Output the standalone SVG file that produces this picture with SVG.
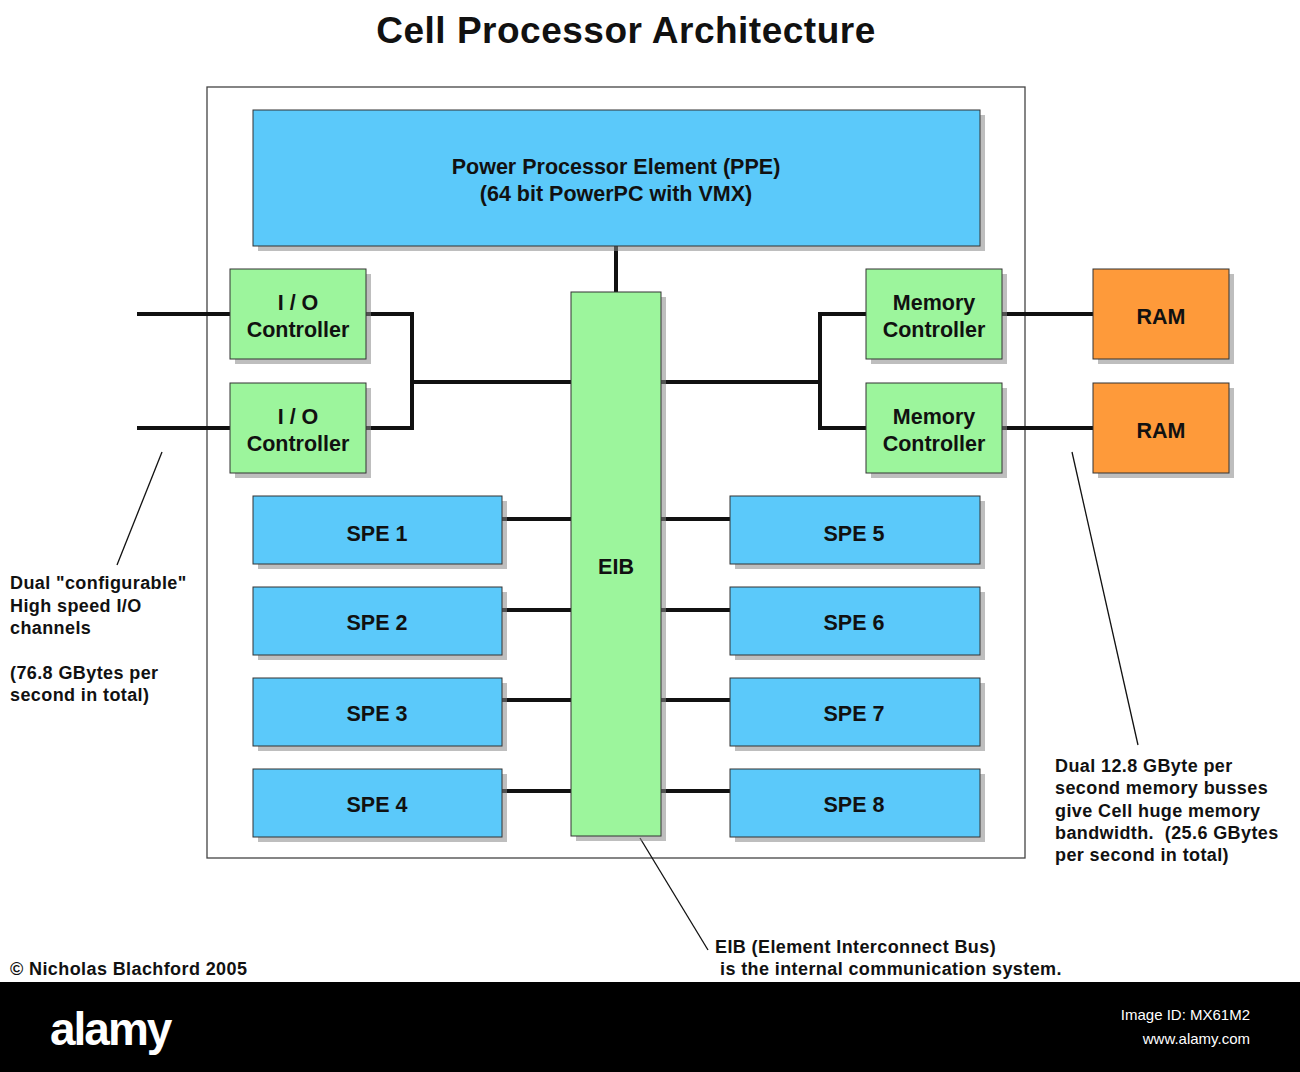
<svg xmlns="http://www.w3.org/2000/svg" width="1300" height="1072" viewBox="0 0 1300 1072">
<style>
text{font-family:"Liberation Sans",Arial,sans-serif;font-weight:bold;fill:#111}
.b{fill:#5bc9fa;stroke:#333;stroke-width:1}
.g{fill:#9cf59c;stroke:#333;stroke-width:1}
.o{fill:#fe9a3a;stroke:#333;stroke-width:1}
.sh{fill:#888;opacity:0.55}
.lbl{font-size:21.5px;text-anchor:middle}
.note{font-size:18px;letter-spacing:0.4px}
#conn line,#conn polyline{stroke:#111;stroke-width:4;fill:none}
#ptr line{stroke:#111;stroke-width:1.3}
</style>
<rect width="1300" height="1072" fill="#fff"/>
<text x="626" y="43" font-size="37" text-anchor="middle" letter-spacing="0.5">Cell Processor Architecture</text>
<rect x="207" y="87" width="818" height="771" fill="#fff" stroke="#444" stroke-width="1.3"/>
<g id="conn">
<line x1="616" y1="246" x2="616" y2="292"/>
<line x1="137" y1="314" x2="230" y2="314"/>
<line x1="137" y1="428" x2="230" y2="428"/>
<polyline points="366,314 412,314 412,428 366,428"/>
<line x1="412" y1="382" x2="571" y2="382"/>
<line x1="661" y1="382" x2="820" y2="382"/>
<polyline points="866,314 820,314 820,428 866,428"/>
<line x1="1002" y1="314" x2="1093" y2="314"/>
<line x1="1002" y1="428" x2="1093" y2="428"/>
<line x1="502" y1="519" x2="571" y2="519"/><line x1="502" y1="610" x2="571" y2="610"/>
<line x1="502" y1="700" x2="571" y2="700"/><line x1="502" y1="791" x2="571" y2="791"/>
<line x1="661" y1="519" x2="730" y2="519"/><line x1="661" y1="610" x2="730" y2="610"/>
<line x1="661" y1="700" x2="730" y2="700"/><line x1="661" y1="791" x2="730" y2="791"/>
</g>
<g id="ptr">
<line x1="162" y1="452" x2="117" y2="565"/>
<line x1="1072" y1="452" x2="1138" y2="745"/>
<line x1="640" y1="838" x2="708" y2="950"/>
</g>
<g id="ppe"><rect class="sh" x="258" y="115" width="727" height="136"/><rect class="b" x="253" y="110" width="727" height="136"/>
<text class="lbl" x="616" y="174">Power Processor Element (PPE)</text><text class="lbl" x="616" y="201">(64 bit PowerPC with VMX)</text></g>
<g id="io1"><rect class="sh" x="235" y="274" width="136" height="90"/><rect class="g" x="230" y="269" width="136" height="90"/>
<text class="lbl" x="298" y="310">I / O</text><text class="lbl" x="298" y="337">Controller</text></g>
<g id="io2"><rect class="sh" x="235" y="388" width="136" height="90"/><rect class="g" x="230" y="383" width="136" height="90"/>
<text class="lbl" x="298" y="424">I / O</text><text class="lbl" x="298" y="451">Controller</text></g>
<g id="eib"><rect class="sh" x="576" y="297" width="90" height="544"/><rect class="g" x="571" y="292" width="90" height="544"/>
<text class="lbl" x="616" y="574">EIB</text></g>
<g id="mc1"><rect class="sh" x="871" y="274" width="136" height="90"/><rect class="g" x="866" y="269" width="136" height="90"/>
<text class="lbl" x="934" y="310">Memory</text><text class="lbl" x="934" y="337">Controller</text></g>
<g id="mc2"><rect class="sh" x="871" y="388" width="136" height="90"/><rect class="g" x="866" y="383" width="136" height="90"/>
<text class="lbl" x="934" y="424">Memory</text><text class="lbl" x="934" y="451">Controller</text></g>
<g id="ram1"><rect class="sh" x="1098" y="274" width="136" height="90"/><rect class="o" x="1093" y="269" width="136" height="90"/><text class="lbl" x="1161" y="324">RAM</text></g>
<g id="ram2"><rect class="sh" x="1098" y="388" width="136" height="90"/><rect class="o" x="1093" y="383" width="136" height="90"/><text class="lbl" x="1161" y="438">RAM</text></g>
<g id="spe1"><rect class="sh" x="258" y="501" width="249" height="68"/><rect class="b" x="253" y="496" width="249" height="68"/><text class="lbl" x="377" y="541">SPE 1</text></g>
<g id="spe2"><rect class="sh" x="258" y="592" width="249" height="68"/><rect class="b" x="253" y="587" width="249" height="68"/><text class="lbl" x="377" y="630">SPE 2</text></g>
<g id="spe3"><rect class="sh" x="258" y="683" width="249" height="68"/><rect class="b" x="253" y="678" width="249" height="68"/><text class="lbl" x="377" y="721">SPE 3</text></g>
<g id="spe4"><rect class="sh" x="258" y="774" width="249" height="68"/><rect class="b" x="253" y="769" width="249" height="68"/><text class="lbl" x="377" y="812">SPE 4</text></g>
<g id="spe5"><rect class="sh" x="735" y="501" width="250" height="68"/><rect class="b" x="730" y="496" width="250" height="68"/><text class="lbl" x="854" y="541">SPE 5</text></g>
<g id="spe6"><rect class="sh" x="735" y="592" width="250" height="68"/><rect class="b" x="730" y="587" width="250" height="68"/><text class="lbl" x="854" y="630">SPE 6</text></g>
<g id="spe7"><rect class="sh" x="735" y="683" width="250" height="68"/><rect class="b" x="730" y="678" width="250" height="68"/><text class="lbl" x="854" y="721">SPE 7</text></g>
<g id="spe8"><rect class="sh" x="735" y="774" width="250" height="68"/><rect class="b" x="730" y="769" width="250" height="68"/><text class="lbl" x="854" y="812">SPE 8</text></g>
<g class="note">
<text class="note" x="10" y="589">Dual "configurable"</text>
<text class="note" x="10" y="612">High speed I/O</text>
<text class="note" x="10" y="634">channels</text>
<text class="note" x="10" y="679">(76.8 GBytes per</text>
<text class="note" x="10" y="701">second in total)</text>
<text class="note" x="1055" y="772">Dual 12.8 GByte per</text>
<text class="note" x="1055" y="794">second memory busses</text>
<text class="note" x="1055" y="817">give Cell huge memory</text>
<text class="note" x="1055" y="839" xml:space="preserve">bandwidth.  (25.6 GBytes</text>
<text class="note" x="1055" y="861">per second in total)</text>
<text class="note" x="715" y="953">EIB (Element Interconnect Bus)</text>
<text class="note" x="720" y="975"> is the internal communication system.</text>
<text class="note" x="10" y="975">© Nicholas Blachford 2005</text>
</g>
<rect x="0" y="982" width="1300" height="90" fill="#000"/>
<text x="50" y="1045" font-size="46" style="fill:#fff;font-weight:bold" letter-spacing="-2">alamy</text>
<text x="1250" y="1020" font-size="15" text-anchor="end" style="fill:#fff;font-weight:normal">Image ID: MX61M2</text>
<text x="1250" y="1044" font-size="15" text-anchor="end" style="fill:#fff;font-weight:normal">www.alamy.com</text>
</svg>
